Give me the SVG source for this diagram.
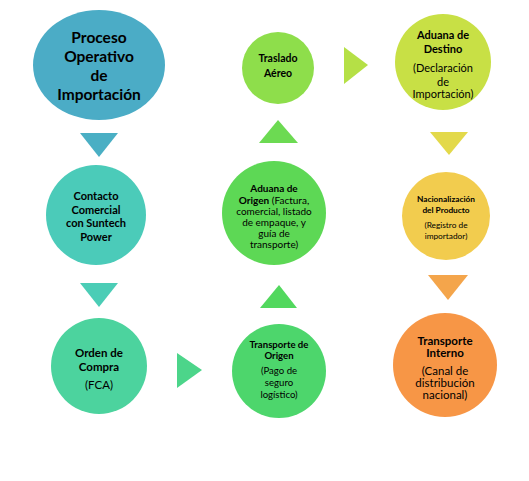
<svg xmlns="http://www.w3.org/2000/svg" width="529" height="481" viewBox="0 0 529 481">
<style>
text{font-family:Lato,"Open Sans","Liberation Sans",sans-serif;fill:#000;text-anchor:middle}
.b{font-weight:bold}
</style>
<rect width="529" height="481" fill="#fff"/>
<g id="connectors">
<polygon points="80,133 118,133 99,157" fill="#4AAFC4"/>
<polygon points="80,283 118,283 99,307" fill="#4BCDB6"/>
<polygon points="177,353 177,388 202,370" fill="#4CD58A"/>
<polygon points="260,308 297,308 279,285" fill="#52D85E"/>
<polygon points="259,143 298,143 278,120" fill="#6CDA52"/>
<polygon points="344,47 344,84 368,65" fill="#B5E046"/>
<polygon points="430,132 468,132 449,155" fill="#E3D94A"/>
<polygon points="428,275 468,275 448,300" fill="#F4A54B"/>
</g>
<g id="n1">
<ellipse cx="99" cy="65" rx="66" ry="55" fill="#4BACC6"/>
<text class="b" font-size="15.5"><tspan x="99" y="43">Proceso</tspan><tspan x="99" y="62">Operativo</tspan><tspan x="99" y="81">de</tspan><tspan x="99" y="100">Importación</tspan></text>
</g>
<g id="n2">
<circle cx="96" cy="215" r="50" fill="#4BCBB9"/>
<text class="b" font-size="11"><tspan x="96" y="200">Contacto</tspan><tspan x="96" y="214">Comercial</tspan><tspan x="96" y="227">con Suntech</tspan><tspan x="96" y="241">Power</tspan></text>
</g>
<g id="n3">
<circle cx="99" cy="366" r="48" fill="#4CD39E"/>
<text font-size="11.5"><tspan class="b" x="99" y="357">Orden de</tspan><tspan class="b" x="99" y="371">Compra</tspan><tspan x="99" y="389">(FCA)</tspan></text>
</g>
<g id="n4">
<circle cx="279" cy="371" r="47" fill="#4DD66C"/>
<text font-size="9.6"><tspan class="b" x="279" y="348">Transporte de</tspan><tspan class="b" x="279" y="359">Origen</tspan><tspan x="279" y="374">(Pago de</tspan><tspan x="279" y="386">seguro</tspan><tspan x="279" y="398">logístico)</tspan></text>
</g>
<g id="n5">
<circle cx="274" cy="213" r="52" fill="#5DD855"/>
<text font-size="10"><tspan class="b" x="274" y="192">Aduana de</tspan><tspan x="274" y="204"><tspan class="b">Origen</tspan> (Factura,</tspan><tspan x="274" y="215">comercial, listado</tspan><tspan x="274" y="226">de empaque, y</tspan><tspan x="274" y="237">guía de</tspan><tspan x="274" y="248">transporte)</tspan></text>
</g>
<g id="n6">
<circle cx="278" cy="68" r="36" fill="#8EDE4B"/>
<text class="b" font-size="10.5"><tspan x="278" y="62">Traslado</tspan><tspan x="278" y="77">Aéreo</tspan></text>
</g>
<g id="n7">
<circle cx="443" cy="62" r="48" fill="#C8E045"/>
<text font-size="11"><tspan class="b" x="443" y="39">Aduana de</tspan><tspan class="b" x="443" y="53">Destino</tspan><tspan x="443" y="72">(Declaración</tspan><tspan x="443" y="86">de</tspan><tspan x="443" y="98">Importación)</tspan></text>
</g>
<g id="n8">
<circle cx="446" cy="216" r="44" fill="#F2CC4E"/>
<text font-size="8.3"><tspan class="b" x="446" y="202">Nacionalización</tspan><tspan class="b" x="446" y="213">del Producto</tspan><tspan x="446" y="228">(Registro de</tspan><tspan x="446" y="239">importador)</tspan></text>
</g>
<g id="n9">
<circle cx="445" cy="365" r="52" fill="#F79646"/>
<text font-size="11.5"><tspan class="b" x="445" y="345">Transporte</tspan><tspan class="b" x="445" y="357">Interno</tspan><tspan x="445" y="375">(Canal de</tspan><tspan x="445" y="387">distribución</tspan><tspan x="445" y="399">nacional)</tspan></text>
</g>
</svg>
